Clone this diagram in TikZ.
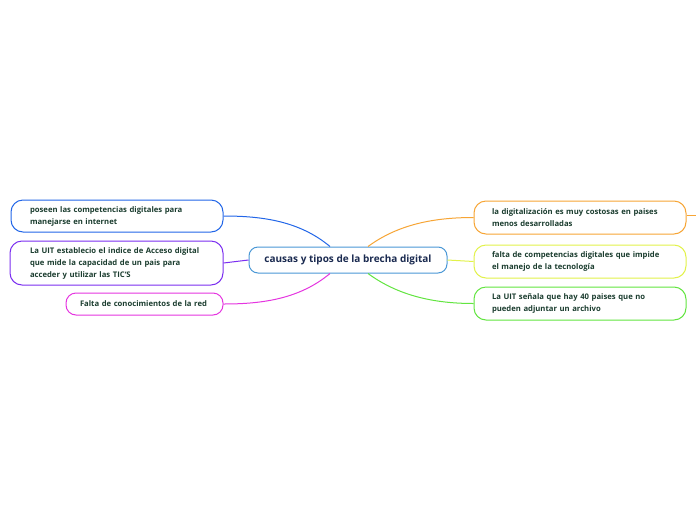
\documentclass[tikz,border=0pt]{standalone}
\usepackage{fontspec}
\setmainfont{Open Sans}
\usetikzlibrary{calc}
\hfuzz=100pt
\hbadness=10000
\definecolor{txtgreen}{HTML}{1B3D2F}
\definecolor{txtnavy}{HTML}{1A2A50}
\definecolor{cblue}{HTML}{2266E8}
\definecolor{cpurple}{HTML}{7B2FF0}
\definecolor{cmag}{HTML}{E535E0}
\definecolor{corange}{HTML}{F7A535}
\definecolor{cyellow}{HTML}{E2F24A}
\definecolor{cgreen}{HTML}{62E540}
\definecolor{ccentral}{HTML}{4A98D6}
\begin{document}
\begin{tikzpicture}[x=1pt,y=-1pt,
  leaf/.style={draw, line width=1pt, rounded corners=12pt, align=left,
    font=\bfseries\fontsize{7.7}{12}\selectfont, text=txtgreen,
    inner xsep=19pt, inner ysep=0pt, text width=174pt, minimum height=32pt},
  hub/.style={draw=ccentral, line width=1pt, rounded corners=9pt,
    font=\bfseries\fontsize{10}{11}\selectfont, text=txtnavy,
    minimum width=198pt, minimum height=26pt, inner sep=0pt},
  link/.style={line width=1pt}]
\useasboundingbox (0,0) rectangle (696,520);
\fill[white] (0,0) rectangle (696,520);

\node[hub] (c) at (348,260) {causas y tipos de la brecha digital};

\node[leaf, draw=cblue] (l1) at (117,216) {\mbox{poseen las competencias digitales para}\\\mbox{manejarse en internet}};
\node[leaf, draw=cpurple, inner xsep=20pt, text width=173pt, minimum height=44pt] (l2) at (116.5,263) {\mbox{La UIT establecio el indice de Acceso digital}\\\mbox{que mide la capacidad de un pais para}\\\mbox{acceder y utilizar las TIC`S}};
\node[leaf, draw=cmag, text width=129pt, inner xsep=14pt, minimum height=22pt, rounded corners=10pt] (l3) at (144.5,304) {\mbox{Falta de conocimientos de la red}};

\node[leaf, draw=corange, inner xsep=18pt, text width=176pt, minimum height=33pt] (r1) at (580,217.5) {\mbox{la digitalización es muy costosas en paises}\\\mbox{menos desarrolladas}};
\node[leaf, draw=cyellow, inner xsep=18pt, text width=176pt, minimum height=33pt] (r2) at (580,261.5) {\mbox{falta de competencias digitales que impide}\\\mbox{el manejo de la tecnología}};
\node[leaf, draw=cgreen, inner xsep=18pt, text width=176pt, minimum height=33pt] (r3) at (580,303.5) {\mbox{La UIT señala que hay 40 paises que no}\\\mbox{pueden adjuntar un archivo}};

\coordinate (edge) at (696,215);

\draw[link, cblue] ($(c.north)+(-18,0)$) .. controls +(-30,-25) and +(40,0) .. (l1.east);
\draw[link, cpurple] (c.west) -- (l2.east);
\draw[link, cmag] ($(c.south)+(-18,0)$) .. controls +(-30,25) and +(40,0) .. (l3.east);
\draw[link, corange] ($(c.north)+(20,0)$) .. controls +(30,-22) and +(-40,0) .. (r1.west);
\draw[link, cyellow] (c.east) -- (r2.west);
\draw[link, cgreen] ($(c.south)+(20,0)$) .. controls +(30,22) and +(-40,0) .. (r3.west);
\draw[link, corange, line width=0.6pt] (r1.east |- edge) -- (edge);
\end{tikzpicture}
\end{document}
